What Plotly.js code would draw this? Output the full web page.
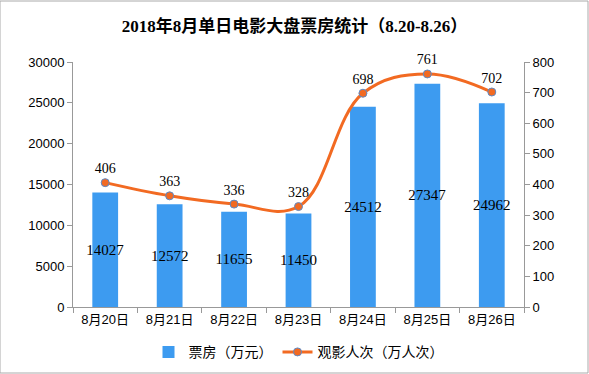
<!DOCTYPE html>
<html><head><meta charset="utf-8">
<script src="https://cdn.plot.ly/plotly-3.0.1.min.js"></script>
<style>html,body{margin:0;padding:0;background:#fff}#chart{width:589px;height:374px}</style>
</head><body><div id="chart"></div>
<script>
const categories = ["8月20日","8月21日","8月22日","8月23日","8月24日","8月25日","8月26日"];
const boxOffice = [14027, 12572, 11655, 11450, 24512, 27347, 24962];
const audience = [406, 363, 336, 328, 698, 761, 702];
const leftTicks = [0,5000,10000,15000,20000,25000,30000];
const rightTicks = [0,100,200,300,400,500,600,700,800];

const serif = '"Liberation Serif", "Noto Sans CJK SC", serif';
const sans = '"Liberation Sans", "Noto Sans CJK SC", sans-serif';

const traces = [
  {
    type: 'bar', name: '票房（万元）', x: categories, y: boxOffice,
    marker: {color: '#3D9BF0'}, width: 0.4,
    text: boxOffice.map(String), textposition: 'inside', insidetextanchor: 'middle',
    textangle: 0, constraintext: 'none', cliponaxis: false,
    textfont: {family: serif, size: 15, color: '#000'}, hoverinfo: 'x+y'
  },
  {
    type: 'scatter', mode: 'lines+markers+text', name: '观影人次（万人次）',
    x: categories, y: audience, yaxis: 'y2',
    line: {color: '#F26A22', width: 3, shape: 'spline', smoothing: 1.1},
    marker: {color: '#F26A22', size: 8, line: {color: '#5B8BC9', width: 1}},
    text: audience.map(String), textposition: 'top center',
    textfont: {family: serif, size: 14, color: '#000'}, cliponaxis: false
  }
];

const layout = {
  width: 589, height: 374,
  margin: {l: 73, r: 65, t: 62, b: 67, autoexpand: false},
  paper_bgcolor: '#fff', plot_bgcolor: '#fff',
  title: {text: '2018年8月单日电影大盘票房统计（8.20-8.26）', x: 0.5, xanchor: 'center', y: 0.93, yanchor: 'middle',
          font: {family: serif, size: 17, color: '#000', weight: 'bold'}},
  showlegend: true,
  legend: {orientation: 'h', x: 0.5, xanchor: 'center', yref: 'container', y: 0.058, yanchor: 'middle',
           font: {family: sans, size: 14, color: '#000'}, traceorder: 'normal'},
  xaxis: {
    showline: true, linecolor: '#999', linewidth: 1, ticks: 'outside', tickson: 'boundaries',
    tickcolor: '#999', ticklen: 5, showgrid: false, zeroline: false, automargin: false,
    tickfont: {family: sans, size: 13, color: '#000'}
  },
  yaxis: {
    range: [0, 30000], tickvals: leftTicks, ticktext: leftTicks.map(String), automargin: false,
    showline: true, linecolor: '#999', linewidth: 1,
    ticks: 'outside', tickcolor: '#999', ticklen: 5, showgrid: false, zeroline: false,
    tickfont: {family: sans, size: 13, color: '#000'}
  },
  yaxis2: {
    range: [0, 800], tickvals: rightTicks, ticktext: rightTicks.map(String), automargin: false,
    overlaying: 'y', side: 'right', showline: true,
    linecolor: '#999', linewidth: 1, ticks: 'outside', tickcolor: '#999', ticklen: 5,
    showgrid: false, zeroline: false, tickfont: {family: sans, size: 13, color: '#000'}
  },
  shapes: [{type: 'rect', xref: 'paper', yref: 'paper', x0: -73/451, x1: 1 + 64/451, y0: -66/245, y1: 1 + 61/245,
            line: {color: '#aaa', width: 1}}]
};

Plotly.newPlot('chart', traces, layout, {displayModeBar: false, staticPlot: true});
</script></body></html>
